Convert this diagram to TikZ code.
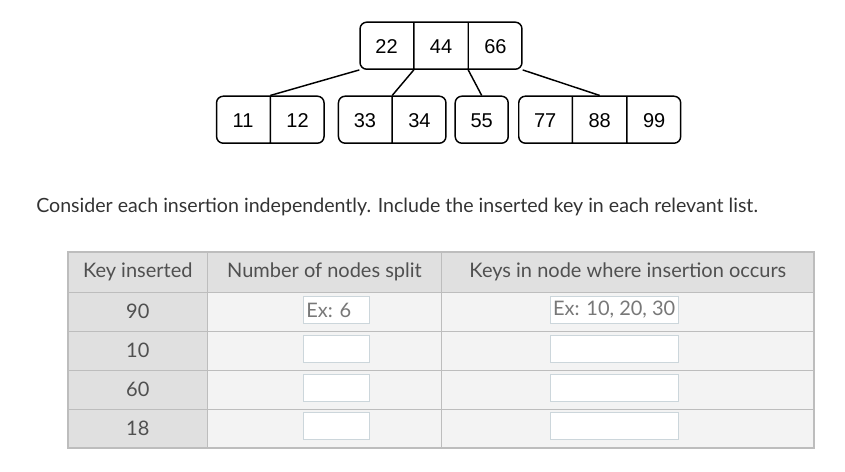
\documentclass[tikz,border=0pt]{standalone}
\usepackage{fontspec}
\usepackage{xcolor}
\setmainfont{Liberation Sans}
\newfontfamily\uifont{Lato}
\usetikzlibrary{shapes.multipart}

\definecolor{hdrgray}{RGB}{224,224,224}
\definecolor{cellgray}{RGB}{243,243,243}
\definecolor{rulegray}{RGB}{189,189,189}
\definecolor{boxedge}{RGB}{204,214,219}
\definecolor{txtgray}{RGB}{80,80,80}
\definecolor{holdgray}{RGB}{120,120,120}

\newcommand{\kcell}[1]{\makebox[39.75pt]{\rule[-11.5pt]{0pt}{35.25pt}#1}}

\tikzset{
  keynode/.style={rectangle split, rectangle split horizontal, draw, line width=1.1pt,
    rounded corners=5pt, inner sep=0pt, font=\fontsize{15}{16}\selectfont},
  treeedge/.style={line width=1.1pt},
  tabtext/.style={inner sep=0.75pt, text=txtgray, font=\uifont\fontsize{15}{18}\selectfont},
  inbox/.style={draw=boxedge, line width=0.75pt, fill=white, minimum width=49.5pt, minimum height=20.25pt, inner sep=0pt},
  holdtext/.style={inner sep=0.75pt, anchor=west, text=holdgray, font=\uifont\fontsize{15}{18}\selectfont},
}

\begin{document}
\begin{tikzpicture}[x=0.75pt,y=0.75pt,yscale=-1,xscale=1]
\useasboundingbox (0,0) rectangle (845,471);
%B-tree nodes
\node [keynode, rectangle split parts=3] (root) at (441,45.7) {\kcell{22}\nodepart{two}\kcell{44}\nodepart{three}\kcell{66}};
\node [keynode, rectangle split parts=2] (leafa) at (270.3,119.7) {\kcell{11}\nodepart{two}\kcell{12}};
\node [keynode, rectangle split parts=2] (leafb) at (392.2,119.7) {\kcell{33}\nodepart{two}\kcell{34}};
\node [keynode, rectangle split parts=1] (leafc) at (481.7,119.7) {\kcell{55}};
\node [keynode, rectangle split parts=3] (leafd) at (599.7,119.7) {\kcell{77}\nodepart{two}\kcell{88}\nodepart{three}\kcell{99}};
%Child pointers
\draw [treeedge] (root.south west) -- (leafa.one split north) ;
\draw [treeedge] (root.one split south) -- (leafb.one split north) ;
\draw [treeedge] (root.two split south) -- (leafc.north) ;
\draw [treeedge] (root.south east) -- (leafd.north) ;
% Text Node
\node [anchor=west, inner sep=0.75pt, text={rgb,255:red,51;green,51;blue,51}, font=\uifont\fontsize{14.7}{18}\selectfont] (note) at (35,207) {Consider each insertion independently. Include the inserted key in each relevant list.};
%Table background
\fill [hdrgray] (68.3,252.3) rectangle (814,292.3) ;
\fill [hdrgray] (68.3,292.3) rectangle (207.3,448.3) ;
\fill [cellgray] (207.3,292.3) rectangle (814,448.3) ;
%Table rules
\draw [rulegray, line width=0.75pt] (68.3,292.3) -- (814,292.3) ;
\draw [rulegray, line width=0.75pt] (68.3,331) -- (814,331) ;
\draw [rulegray, line width=0.75pt] (68.3,370.3) -- (814,370.3) ;
\draw [rulegray, line width=0.75pt] (68.3,409.3) -- (814,409.3) ;
\draw [rulegray, line width=0.75pt] (207.3,252.3) -- (207.3,448.3) ;
\draw [rulegray, line width=0.75pt] (441.7,252.3) -- (441.7,448.3) ;
\draw [rulegray, line width=1.5pt] (68.3,252.3) rectangle (814,448.3) ;
% Text Node
\node [tabtext] (hkey) at (137.8,272.3) {Key inserted};
% Text Node
\node [tabtext] (hsplit) at (324.5,272.3) {Number of nodes split};
% Text Node
\node [tabtext] (hkeys) at (627.9,272.3) {Keys in node where insertion occurs};
% Text Node
\node [tabtext] (ka) at (137.8,311.7) {90};
% Text Node
\node [tabtext] (kb) at (137.8,350.7) {10};
% Text Node
\node [tabtext] (kc) at (137.8,389.8) {60};
% Text Node
\node [tabtext] (kd) at (137.8,428.8) {18};
%Input boxes
\node [inbox] (sa) at (336.5,310) {};
\node [inbox] (sb) at (336.5,348.7) {};
\node [inbox] (sc) at (336.5,387.7) {};
\node [inbox] (sd) at (336.5,426.3) {};
\node [inbox, minimum width=96.3pt] (la) at (614.5,310) {};
\node [inbox, minimum width=96.3pt] (lb) at (614.5,348.7) {};
\node [inbox, minimum width=96.3pt] (lc) at (614.5,387.7) {};
\node [inbox, minimum width=96.3pt] (ld) at (614.5,426.3) {};
% Text Node
\node [holdtext] (exa) at ([xshift=1.5pt]sa.west) {Ex: 6};
% Text Node
\node [holdtext] (exb) at ([xshift=1.5pt]la.west) {Ex: 10, 20, 30};
\end{tikzpicture}
\end{document}
